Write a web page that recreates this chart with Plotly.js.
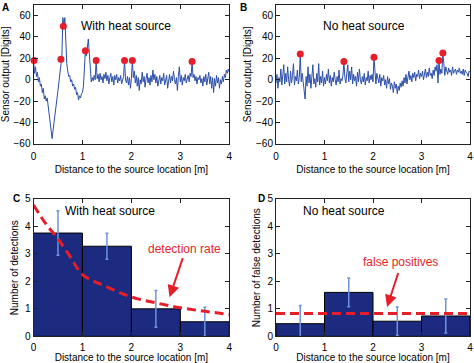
<!DOCTYPE html>
<html><head><meta charset="utf-8">
<script src="https://cdn.plot.ly/plotly-3.0.1.min.js"></script>
<style>html,body{margin:0;padding:0;background:#fff}#chart{width:474px;height:363px}</style>
</head><body><div id="chart"></div>
<script>
// Panel A: sensor output with heat source (sampled every 0.02 m from 0 to 4 m)
const signalWithSource = [
 18,6,12,3,7,-2,2,-6,-4,-12,
 -8,-18,-15,-20,-17,-25,-28,-36,-45,-55,
 -47,-40,-33,-28,-22,-10,-2,8,19,22,
 58,50,58,35,15,8,3,4,-2,0,
 -6,-4,-9,-7,-14,-12,-19,-15,-17,-13,
 -12,-6,10,27,22,30,38,25,8,-2,
 2,-1,4,0,18,1,5,-2,6,0,
 3,-3,5,1,7,-1,4,-4,2,6,
 -2,3,-5,4,0,5,-3,2,-1,4,
 -4,1,3,18,0,-3,3,-5,2,-8,
 1,18,2,8,-3,4,-6,2,-10,0,
 -4,7,-2,3,-7,1,6,-3,2,-5,
 4,-2,9,0,5,-3,3,-6,1,4,
 -4,2,-1,6,-5,0,4,-8,2,5,
 -3,3,-1,8,0,-4,2,-10,3,12,
 -2,4,-5,2,-1,5,-3,1,4,-2,
 6,3,17,2,5,-1,3,-4,2,0,
 4,-3,1,-6,3,-2,5,-5,0,7,
 -4,3,-8,2,-12,1,-6,4,-3,2,
 -8,0,-4,3,-2,5,2,9,6,10,
 7];
const detectA_x = [0.01, 0.56, 0.61, 1.06, 1.28, 1.86, 2.02, 3.24];
const detectA_y = [18, 19, 50, 27, 18, 18, 18, 17];

// Panel B: sensor output without heat source
const signalNoSource = [
 -3,5,-8,2,-2,10,-5,3,14,-4,
 6,-2,12,0,-6,8,-3,4,15,-5,
 3,-1,9,-4,2,24,-2,6,0,-10,
 -18,3,-6,12,-3,5,-8,2,14,-4,
 1,-7,6,-2,15,-5,3,-3,8,-6,
 2,-4,5,-1,10,-3,4,-6,2,-2,
 7,0,-5,3,-2,9,-4,1,-1,4,
 17,2,-3,6,14,-2,8,0,12,-4,
 5,-1,3,-6,7,-2,10,0,-4,3,
 -2,6,-5,2,-1,8,-3,4,0,5,
 -2,21,3,-4,6,0,-3,5,-6,2,
 -1,4,-5,0,-8,3,-4,1,-9,-3,
 -6,-12,-2,-8,-4,-13,-6,-10,-3,-7,
 -1,-6,2,-3,5,-4,3,8,0,4,
 -2,6,2,7,-1,5,3,9,1,6,
 3,8,0,5,10,2,7,3,11,4,
 6,1,9,4,12,8,14,-3,18,5,
 10,6,25,15,4,12,8,5,11,7,
 9,4,12,6,8,10,5,9,7,11,
 6,8,5,10,4,9,7,6,3,8,
 7];
const detectB_x = [0.50, 1.40, 2.02, 3.36, 3.44];
const detectB_y = [24, 17, 21, 18, 25];

// Panels C and D: histograms of detections per 1 m bin
const binCenters = [0.5, 1.5, 2.5, 3.5];
const detections = [3.76, 3.28, 1.0, 0.53];
const detectionsErr = [0.81, 0.47, 0.67, 0.53];
const rateX = [0, 0.25, 0.5, 0.75, 1.0, 1.5, 2.0, 2.5, 3.0, 3.5, 4.0];
const rateY = [4.78, 4.1, 3.55, 2.9, 2.25, 1.8, 1.43, 1.22, 1.04, 0.91, 0.8];
const falseDetections = [0.46, 1.6, 0.55, 0.74];
const falseErr = [0.66, 0.52, 0.52, 0.62];
const falsePosX = [0, 4];
const falsePosY = [0.835, 0.835];

const lineBlue = '#2c4ea8', red = '#e61e2a', navy = '#1c2a80', errBlue = '#6f93dc';
const sigStep = 0.02;

const traces = [
  {x0:0, dx:sigStep, y:signalWithSource, type:'scatter', mode:'lines', line:{color:lineBlue, width:1}, xaxis:'x', yaxis:'y'},
  {x:detectA_x, y:detectA_y, type:'scatter', mode:'markers', marker:{color:red, size:7}, xaxis:'x', yaxis:'y', cliponaxis:false},
  {x0:0, dx:sigStep, y:signalNoSource, type:'scatter', mode:'lines', line:{color:lineBlue, width:1}, xaxis:'x2', yaxis:'y2'},
  {x:detectB_x, y:detectB_y, type:'scatter', mode:'markers', marker:{color:red, size:7}, xaxis:'x2', yaxis:'y2', cliponaxis:false},
  {x:binCenters, y:detections, type:'bar', width:1, marker:{color:navy, line:{color:'#000', width:1}},
   error_y:{type:'data', array:detectionsErr, color:errBlue, thickness:1.5, width:1.5}, xaxis:'x3', yaxis:'y3'},
  {x:rateX, y:rateY, type:'scatter', mode:'lines', line:{color:red, width:3, dash:'9px,5px', shape:'spline'}, xaxis:'x3', yaxis:'y3'},
  {x:binCenters, y:falseDetections, type:'bar', width:1, marker:{color:navy, line:{color:'#000', width:1}},
   error_y:{type:'data', array:falseErr, color:errBlue, thickness:1.5, width:1.5}, xaxis:'x4', yaxis:'y4'},
  {x:falsePosX, y:falsePosY, type:'scatter', mode:'lines', line:{color:red, width:3, dash:'9px,5px'}, xaxis:'x4', yaxis:'y4'}
];

const fnt = {family:'Liberation Sans, Arial, sans-serif', size:10, color:'#000'};
function ax(extra){
  return Object.assign({showline:true, linecolor:'#222', linewidth:1, mirror:'ticks', ticks:'inside', ticklen:4,
    tickcolor:'#222', showgrid:false, zeroline:false, tickfont:fnt, fixedrange:true}, extra);
}
const xTitle = {text:'Distance to the source location [m]', font:fnt, standoff:4};
const xd1 = [0.0707, 0.4837], xd2 = [0.5823, 0.9916];
const yd1 = [0.6033, 0.987], yd2 = [0.0735, 0.4518];
const yTicksA = [-60,-40,-20,0,20,40,60];
const yTickTextA = ['\u221260','\u221240','\u221220','0','20','40','60'];

const layout = {
  width:474, height:363, margin:{l:0, r:0, t:0, b:0}, showlegend:false,
  paper_bgcolor:'#fff', plot_bgcolor:'#fff', font:fnt, bargap:0,
  xaxis: ax({domain:xd1, anchor:'y', range:[0,4], dtick:1, ticklabelstandoff:3, title:xTitle}),
  yaxis: ax({domain:yd1, anchor:'x', range:[-60,70], tickvals:yTicksA, ticktext:yTickTextA, title:{text:'Sensor output [Digits]', font:fnt, standoff:2}}),
  xaxis2: ax({domain:xd2, anchor:'y2', range:[0,4], dtick:1, ticklabelstandoff:3, title:xTitle}),
  yaxis2: ax({domain:yd1, anchor:'x2', range:[-60,70], tickvals:yTicksA, ticktext:yTickTextA, title:{text:'Sensor output [Digits]', font:fnt, standoff:2}}),
  xaxis3: ax({domain:xd1, anchor:'y3', range:[0,4], dtick:1, ticklabelstandoff:2, title:{text:'Distance to the source location [m]', font:fnt, standoff:3}}),
  yaxis3: ax({domain:yd2, anchor:'x3', range:[0,5], dtick:1, title:{text:'Number of detections', font:fnt, standoff:4}}),
  xaxis4: ax({domain:xd2, anchor:'y4', range:[0,4], dtick:1, ticklabelstandoff:2, title:{text:'Distance to the source location [m]', font:fnt, standoff:3}}),
  yaxis4: ax({domain:yd2, anchor:'x4', range:[0,5], dtick:1, title:{text:'Number of false detections', font:fnt, standoff:4}}),
  annotations: [
    {text:'<b>A</b>', xref:'paper', yref:'paper', x:0, y:1, xanchor:'left', yanchor:'top', showarrow:false, font:{family:fnt.family, size:10, color:'#000'}},
    {text:'<b>B</b>', xref:'paper', yref:'paper', x:238/474, y:1, xanchor:'left', yanchor:'top', showarrow:false, font:{family:fnt.family, size:10, color:'#000'}},
    {text:'<b>C</b>', xref:'paper', yref:'paper', x:11/474, y:1-191/363, xanchor:'left', yanchor:'top', showarrow:false, font:{family:fnt.family, size:10, color:'#000'}},
    {text:'<b>D</b>', xref:'paper', yref:'paper', x:256/474, y:1-191/363, xanchor:'left', yanchor:'top', showarrow:false, font:{family:fnt.family, size:10, color:'#000'}},
    {text:'With heat source', xref:'x', yref:'y', x:0.92, y:50, xanchor:'left', yanchor:'middle', showarrow:false, font:{family:fnt.family, size:12, color:'#000'}},
    {text:'No heat source', xref:'x2', yref:'y2', x:0.92, y:50, xanchor:'left', yanchor:'middle', showarrow:false, font:{family:fnt.family, size:12, color:'#000'}},
    {text:'With heat source', xref:'x3', yref:'y3', x:0.61, y:4.56, xanchor:'left', yanchor:'middle', showarrow:false, font:{family:fnt.family, size:12, color:'#000'}},
    {text:'No heat source', xref:'x4', yref:'y4', x:0.51, y:4.56, xanchor:'left', yanchor:'middle', showarrow:false, font:{family:fnt.family, size:12, color:'#000'}},
    {text:'detection rate', xref:'x3', yref:'y3', x:3.08, y:3.17, xanchor:'center', yanchor:'middle', showarrow:false, font:{family:fnt.family, size:12, color:red}},
    {text:'', xref:'x3', yref:'y3', x:2.78, y:1.42, ax:3.06, ay:2.9, axref:'x3', ayref:'y3', showarrow:true, arrowhead:2, arrowsize:1.2, arrowwidth:2, arrowcolor:red},
    {text:'false positives', xref:'x4', yref:'y4', x:2.56, y:2.72, xanchor:'center', yanchor:'middle', showarrow:false, font:{family:fnt.family, size:12, color:red}},
    {text:'', xref:'x4', yref:'y4', x:2.29, y:1.07, ax:2.53, ay:2.36, axref:'x4', ayref:'y4', showarrow:true, arrowhead:2, arrowsize:1.2, arrowwidth:2, arrowcolor:red}
  ]
};
Plotly.newPlot('chart', traces, layout, {staticPlot:true, displayModeBar:false});
</script></body></html>
